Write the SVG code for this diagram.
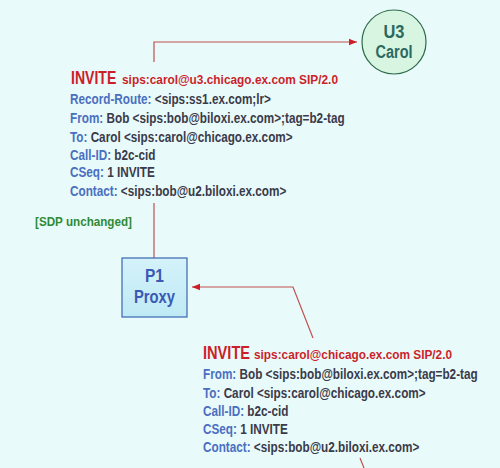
<svg xmlns="http://www.w3.org/2000/svg" width="500" height="468" viewBox="0 0 500 468">
<defs>
<style>
text{font-family:"Liberation Sans",Arial,sans-serif;font-weight:bold;}
.inv{fill:#cc1f2a;font-size:18.5px;}
.uri{fill:#cc1f2a;font-size:12.5px;}
.hdr{font-size:14px;fill:#3a3a4a;}
.lbl{fill:#4a6fc0;}
.sdp{fill:#2f8a35;font-size:13px;}
.node{font-size:18px;text-anchor:middle;}
.conn{fill:none;stroke:#c0504d;stroke-width:1.2;}
</style>
<marker id="ah" viewBox="0 0 10 10" refX="10" refY="5" markerWidth="8" markerHeight="8" orient="auto" markerUnits="userSpaceOnUse">
<path d="M0,1 L10,5 L0,9 z" fill="#cc1f2a"/>
</marker>
<linearGradient id="pg" x1="0" y1="0" x2="0" y2="1">
<stop offset="0" stop-color="#d4f2fa"/>
<stop offset="1" stop-color="#bfeaf5"/>
</linearGradient>
</defs>
<rect width="500" height="468" fill="#e9fafa"/>

<g id="connectors">
<polyline class="conn" points="154,62 154,42 357,42" marker-end="url(#ah)"/>
<line class="conn" x1="154" y1="203" x2="154" y2="258" stroke="#a05050"/>
<polyline class="conn" points="313,338 293,287 192,287" marker-end="url(#ah)"/>
<line class="conn" x1="360" y1="458" x2="364" y2="468"/>
</g>

<g id="U3">
<circle cx="394" cy="42" r="32" fill="#d8f5e2" stroke="#2d6b4c" stroke-width="1.2"/>
<text class="node" x="394" y="38" fill="#2a6a60" textLength="21" lengthAdjust="spacingAndGlyphs">U3</text>
<text class="node" x="394" y="58" fill="#2a6a60" textLength="37" lengthAdjust="spacingAndGlyphs">Carol</text>
</g>

<g id="P1">
<rect x="122" y="258" width="65" height="59" fill="url(#pg)" stroke="#3a66b0" stroke-width="1.2"/>
<text class="node" x="154.5" y="282" fill="#3a5ab4" textLength="19" lengthAdjust="spacingAndGlyphs">P1</text>
<text class="node" x="154.5" y="303" fill="#3a5ab4" textLength="41" lengthAdjust="spacingAndGlyphs">Proxy</text>
</g>

<g id="msg1">
<text class="inv" transform="translate(71,84) scale(0.76,1)" x="0" y="0">INVITE</text>
<text class="uri" x="122" y="84" textLength="216" lengthAdjust="spacingAndGlyphs">sips:carol@u3.chicago.ex.com SIP/2.0</text>
<g transform="translate(70,0) scale(0.84,1)">
<text class="hdr" x="0" y="104"><tspan class="lbl">Record-Route:</tspan> &lt;sips:ss1.ex.com;lr&gt;</text>
<text class="hdr" x="0" y="123"><tspan class="lbl">From:</tspan> Bob &lt;sips:bob@biloxi.ex.com&gt;;tag=b2-tag</text>
<text class="hdr" x="0" y="142"><tspan class="lbl">To:</tspan> Carol &lt;sips:carol@chicago.ex.com&gt;</text>
<text class="hdr" x="0" y="160"><tspan class="lbl">Call-ID:</tspan> b2c-cid</text>
<text class="hdr" x="0" y="177"><tspan class="lbl">CSeq:</tspan> 1 INVITE</text>
<text class="hdr" x="0" y="196"><tspan class="lbl">Contact:</tspan> &lt;sips:bob@u2.biloxi.ex.com&gt;</text>
</g>
</g>

<g id="sdp">
<text class="sdp" x="35" y="226" textLength="97" lengthAdjust="spacingAndGlyphs">[SDP unchanged]</text>
</g>

<g id="msg2">
<text class="inv" transform="translate(203,359) scale(0.79,1)" x="0" y="0">INVITE</text>
<text class="uri" x="254" y="359" textLength="198" lengthAdjust="spacingAndGlyphs">sips:carol@chicago.ex.com SIP/2.0</text>
<g transform="translate(203,0) scale(0.84,1)">
<text class="hdr" x="0" y="379"><tspan class="lbl">From:</tspan> Bob &lt;sips:bob@biloxi.ex.com&gt;;tag=b2-tag</text>
<text class="hdr" x="0" y="398"><tspan class="lbl">To:</tspan> Carol &lt;sips:carol@chicago.ex.com&gt;</text>
<text class="hdr" x="0" y="416"><tspan class="lbl">Call-ID:</tspan> b2c-cid</text>
<text class="hdr" x="0" y="434"><tspan class="lbl">CSeq:</tspan> 1 INVITE</text>
<text class="hdr" x="0" y="452"><tspan class="lbl">Contact:</tspan> &lt;sips:bob@u2.biloxi.ex.com&gt;</text>
</g>
</g>
</svg>
